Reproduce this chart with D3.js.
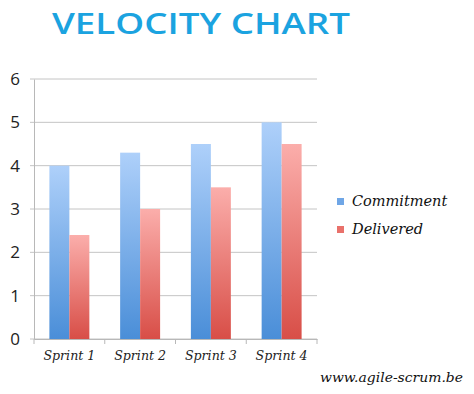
<!DOCTYPE html>
<html>
<head>
<meta charset="utf-8">
<script src="https://cdn.jsdelivr.net/npm/d3@7.9.0/dist/d3.min.js"></script>
<style>
  body { margin: 0; background: #fff; }
  svg { display: block; }
</style>
</head>
<body>
<div id="chart"></div>
<script>
const sprints = ["Sprint 1", "Sprint 2", "Sprint 3", "Sprint 4"];
const seriesNames = ["Commitment", "Delivered"];
const commitment = [4, 4.3, 4.5, 5];
const delivered = [2.4, 3, 3.5, 4.5];
const yTicks = [0, 1, 2, 3, 4, 5, 6];

const W = 474, H = 394;
const margin = {top: 79, right: 157, bottom: 55, left: 34};
const width = W - margin.left - margin.right,
      height = H - margin.top - margin.bottom;

const svg = d3.select("#chart")
  .append("svg")
    .attr("width", W)
    .attr("height", H);

// gradients for the bars
const defs = svg.append("defs");
const grads = [
  {id: "gBlue", top: "#aed0fa", bottom: "#4a8ed8"},
  {id: "gRed", top: "#fbaeab", bottom: "#d84e47"}
];
grads.forEach(g => {
  const lg = defs.append("linearGradient")
    .attr("id", g.id)
    .attr("x1", 0).attr("y1", 0).attr("x2", 0).attr("y2", 1);
  lg.append("stop").attr("offset", "0%").attr("stop-color", g.top);
  lg.append("stop").attr("offset", "100%").attr("stop-color", g.bottom);
});
const fills = {Commitment: "url(#gBlue)", Delivered: "url(#gRed)"};
const legendFills = {Commitment: "#6fa6e6", Delivered: "#e9716b"};

// title
svg.append("text")
  .attr("x", 52)
  .attr("y", 34)
  .attr("textLength", 298)
  .attr("lengthAdjust", "spacingAndGlyphs")
  .attr("font-family", "'Open Sans', 'DejaVu Sans', sans-serif")
  .attr("font-weight", 600)
  .attr("font-size", 28)
  .attr("fill", "#1ba3e0")
  .text("VELOCITY CHART");

const g = svg.append("g")
  .attr("transform", `translate(${margin.left}, ${margin.top})`);

// Scales
const x = d3.scaleBand()
  .domain(sprints)
  .range([0, width])
  .padding(0);

const xs = d3.scaleBand()
  .domain(seriesNames)
  .range([0, x.bandwidth()])
  .paddingInner(0)
  .paddingOuter(0.77);

const y = d3.scaleLinear()
  .domain([0, 6])
  .range([height, 0]);

// gridlines
g.append("g")
  .selectAll("line")
  .data(yTicks)
  .join("line")
    .attr("x1", -4)
    .attr("x2", width)
    .attr("y1", d => y(d))
    .attr("y2", d => y(d))
    .attr("stroke", "#c4c4c4")
    .attr("stroke-width", 1);

// Bars
const rows = sprints.map((s, i) => ({sprint: s, Commitment: commitment[i], Delivered: delivered[i]}));
g.append("g")
  .selectAll("g")
  .data(rows)
  .join("g")
    .attr("transform", d => `translate(${x(d.sprint)},0)`)
  .selectAll("rect")
  .data(d => seriesNames.map(k => ({key: k, value: d[k]})))
  .join("rect")
    .attr("x", d => xs(d.key))
    .attr("y", d => y(d.value))
    .attr("width", xs.bandwidth())
    .attr("height", d => y(0) - y(d.value))
    .attr("fill", d => fills[d.key]);

// Y axis
const yAxis = g.append("g")
  .call(d3.axisLeft(y).tickValues(yTicks).tickSize(0).tickPadding(14).tickFormat(d3.format("d")));
yAxis.select(".domain").attr("stroke", "#b8b8b8");
yAxis.selectAll("text")
  .attr("font-family", "'Open Sans', 'Liberation Sans', sans-serif")
  .attr("font-size", 17)
  .attr("fill", "#222");

// X axis
const xAxis = g.append("g")
  .attr("transform", `translate(0, ${height})`)
  .call(d3.axisBottom(x).tickSize(0).tickPadding(12));
xAxis.select(".domain").attr("stroke", "#b8b8b8");
xAxis.selectAll("text")
  .attr("font-family", "'DejaVu Serif', serif")
  .attr("font-style", "italic")
  .attr("font-size", 12)
  .attr("textLength", 52)
  .attr("lengthAdjust", "spacingAndGlyphs")
  .attr("fill", "#222");
// boundary tick marks between sprints
g.append("g")
  .selectAll("line")
  .data(sprints)
  .join("line")
    .attr("x1", d => x(d) + x.bandwidth())
    .attr("x2", d => x(d) + x.bandwidth())
    .attr("y1", height)
    .attr("y2", height + 5)
    .attr("stroke", "#b8b8b8");
g.append("line")
  .attr("x1", 0).attr("x2", 0)
  .attr("y1", height).attr("y2", height + 5)
  .attr("stroke", "#b8b8b8");

// Legend
const legend = svg.append("g")
  .attr("transform", "translate(337, 198)");
const li = legend.selectAll("g")
  .data(seriesNames)
  .join("g")
    .attr("transform", (d, i) => `translate(0, ${i * 28})`);
li.append("rect")
  .attr("width", 7)
  .attr("height", 7)
  .attr("fill", d => legendFills[d]);
li.append("text")
  .attr("x", 15)
  .attr("y", 8)
  .attr("font-family", "'DejaVu Serif', serif")
  .attr("font-style", "italic")
  .attr("font-size", 14.5)
  .attr("fill", "#111")
  .text(d => d);

// watermark
svg.append("text")
  .attr("x", 320)
  .attr("y", 382)
  .attr("textLength", 143)
  .attr("lengthAdjust", "spacingAndGlyphs")
  .attr("font-family", "'DejaVu Serif', serif")
  .attr("font-style", "italic")
  .attr("font-size", 13)
  .attr("fill", "#111")
  .text("www.agile-scrum.be");
</script>
</body>
</html>
